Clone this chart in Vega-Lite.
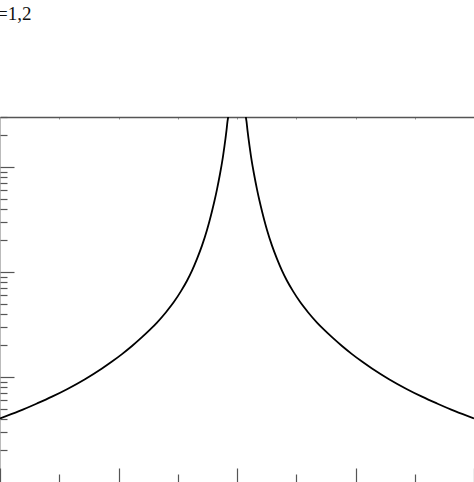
{
  "$schema": "https://vega.github.io/schema/vega-lite/v6.json",
  "width": 474,
  "height": 365,
  "autosize": "none",
  "padding": {"left": 0, "top": 117, "right": 0, "bottom": 0},
  "title": {
    "text": "=1,2",
    "anchor": "start",
    "frame": "group",
    "baseline": "alphabetic",
    "offset": 77,
    "dx": -3,
    "font": "Liberation Serif",
    "fontSize": 19,
    "fontWeight": "normal",
    "color": "#111"
  },
  "data": {
    "values": [
      {"side": "L", "x": -2.0, "y": 0.00403},
      {"side": "L", "x": -1.8397, "y": 0.00473},
      {"side": "L", "x": -1.6878, "y": 0.0056},
      {"side": "L", "x": -1.5612, "y": 0.0065},
      {"side": "L", "x": -1.4346, "y": 0.00766},
      {"side": "L", "x": -1.2827, "y": 0.00954},
      {"side": "L", "x": -1.1392, "y": 0.01206},
      {"side": "L", "x": -1.0549, "y": 0.01404},
      {"side": "L", "x": -0.9705, "y": 0.01654},
      {"side": "L", "x": -0.8861, "y": 0.01975},
      {"side": "L", "x": -0.8017, "y": 0.02396},
      {"side": "L", "x": -0.7342, "y": 0.02825},
      {"side": "L", "x": -0.6751, "y": 0.03302},
      {"side": "L", "x": -0.5992, "y": 0.04145},
      {"side": "L", "x": -0.5316, "y": 0.05203},
      {"side": "L", "x": -0.4726, "y": 0.0658},
      {"side": "L", "x": -0.4219, "y": 0.0826},
      {"side": "L", "x": -0.3797, "y": 0.1032},
      {"side": "L", "x": -0.3376, "y": 0.1336},
      {"side": "L", "x": -0.2954, "y": 0.1785},
      {"side": "L", "x": -0.2532, "y": 0.2517},
      {"side": "L", "x": -0.2321, "y": 0.3065},
      {"side": "L", "x": -0.211, "y": 0.3794},
      {"side": "L", "x": -0.1899, "y": 0.4772},
      {"side": "L", "x": -0.1688, "y": 0.614},
      {"side": "L", "x": -0.1435, "y": 0.859},
      {"side": "L", "x": -0.1308, "y": 1.034},
      {"side": "L", "x": -0.1181, "y": 1.267},
      {"side": "L", "x": -0.1055, "y": 1.589},
      {"side": "L", "x": -0.097, "y": 1.877},
      {"side": "L", "x": -0.0886, "y": 2.236},
      {"side": "L", "x": -0.0802, "y": 2.72},
      {"side": "L", "x": -0.0743, "y": 3.0},
      {"side": "R", "x": 0.0743, "y": 3.0},
      {"side": "R", "x": 0.0802, "y": 2.72},
      {"side": "R", "x": 0.0886, "y": 2.236},
      {"side": "R", "x": 0.097, "y": 1.877},
      {"side": "R", "x": 0.1055, "y": 1.589},
      {"side": "R", "x": 0.1181, "y": 1.267},
      {"side": "R", "x": 0.1308, "y": 1.034},
      {"side": "R", "x": 0.1435, "y": 0.859},
      {"side": "R", "x": 0.1688, "y": 0.614},
      {"side": "R", "x": 0.1899, "y": 0.4772},
      {"side": "R", "x": 0.211, "y": 0.3794},
      {"side": "R", "x": 0.2321, "y": 0.3065},
      {"side": "R", "x": 0.2532, "y": 0.2517},
      {"side": "R", "x": 0.2954, "y": 0.1785},
      {"side": "R", "x": 0.3376, "y": 0.1336},
      {"side": "R", "x": 0.3797, "y": 0.1032},
      {"side": "R", "x": 0.4219, "y": 0.0826},
      {"side": "R", "x": 0.4726, "y": 0.0658},
      {"side": "R", "x": 0.5316, "y": 0.05203},
      {"side": "R", "x": 0.5992, "y": 0.04145},
      {"side": "R", "x": 0.6751, "y": 0.03302},
      {"side": "R", "x": 0.7342, "y": 0.02825},
      {"side": "R", "x": 0.8017, "y": 0.02396},
      {"side": "R", "x": 0.8861, "y": 0.01975},
      {"side": "R", "x": 0.9705, "y": 0.01654},
      {"side": "R", "x": 1.0549, "y": 0.01404},
      {"side": "R", "x": 1.1392, "y": 0.01206},
      {"side": "R", "x": 1.2827, "y": 0.00954},
      {"side": "R", "x": 1.4346, "y": 0.00766},
      {"side": "R", "x": 1.5612, "y": 0.0065},
      {"side": "R", "x": 1.6878, "y": 0.0056},
      {"side": "R", "x": 1.8397, "y": 0.00473},
      {"side": "R", "x": 2.0, "y": 0.00403}
    ]
  },
  "layer": [
    {
      "mark": {"type": "line", "color": "black", "strokeWidth": 1.8, "interpolate": "monotone", "clip": true},
      "encoding": {
        "x": {
          "field": "x", "type": "quantitative",
          "scale": {"domain": [-2, 2], "nice": false, "zero": false},
          "axis": {
            "orient": "bottom", "title": null, "labels": false, "grid": false,
            "domain": true, "domainColor": "#555",
            "values": [-2, -1.5, -1, -0.5, 0, 0.5, 1, 1.5, 2],
            "tickColor": "#555", "tickWidth": 1.2,
            "tickSize": {"condition": {"test": "datum.value % 1 === 0", "value": -14}, "value": -8}
          }
        },
        "y": {
          "field": "y", "type": "quantitative",
          "scale": {"type": "log", "domain": [0.001, 3], "nice": false},
          "axis": {
            "orient": "left", "title": null, "labels": false, "grid": false, "domain": false,
            "values": [0.002, 0.003, 0.004, 0.005, 0.006, 0.007, 0.008, 0.009, 0.01, 0.02, 0.03, 0.04, 0.05, 0.06, 0.07, 0.08, 0.09, 0.1, 0.2, 0.3, 0.4, 0.5, 0.6, 0.7, 0.8, 0.9, 1, 2, 3],
            "tickColor": "#555", "tickWidth": 1.2,
            "tickSize": {"condition": {"test": "datum.value === 0.01 || datum.value === 0.1 || datum.value === 1", "value": -14}, "value": -7}
          }
        },
        "detail": {"field": "side"}
      }
    },
    {
      "mark": {"type": "line", "opacity": 0, "clip": true},
      "encoding": {
        "x": {
          "field": "x", "type": "quantitative",
          "axis": {
            "orient": "top", "title": null, "labels": false, "grid": false,
            "domain": true, "domainColor": "#555", "domainWidth": 1.6,
            "values": [-1.5, -1, -0.5, 0, 0.5, 1, 1.5],
            "tickColor": "#999", "tickWidth": 1, "tickSize": -2
          }
        },
        "y": {"field": "y", "type": "quantitative"},
        "detail": {"field": "side"}
      }
    }
  ],
  "resolve": {"axis": {"x": "independent"}},
  "config": {
    "view": {"stroke": "#bbb", "strokeWidth": 1}
  }
}
